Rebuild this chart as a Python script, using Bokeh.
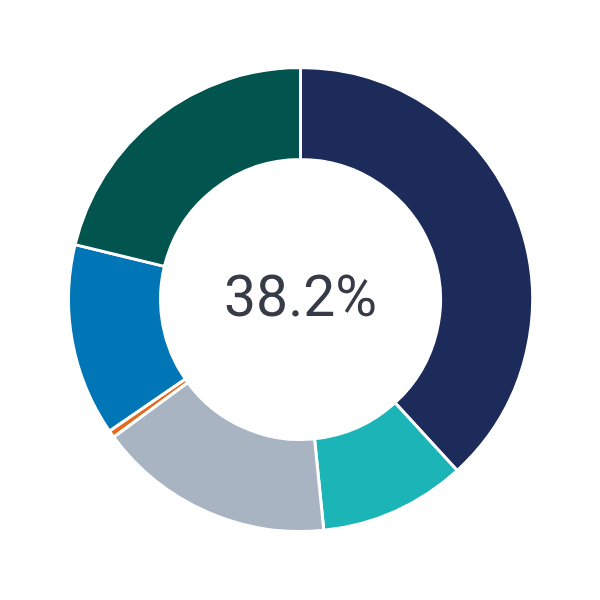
import numpy as np
from bokeh.plotting import figure
from bokeh.models import ColumnDataSource
from bokeh.core.properties import value
from bokeh.embed import file_html
from bokeh.resources import INLINE

# share of each segment, clockwise from the top
labels = ["Navy", "Teal", "Gray", "Orange", "Blue", "Green"]
shares = [38.2, 10.2, 16.5, 0.5, 13.4, 21.2]
colors = ["#1c2b5a", "#1bb5b8", "#a9b4c2", "#e3691f", "#0076b6", "#02554f"]
center_label = "38.2%"

fractions = np.array(shares) / sum(shares)
ends = np.cumsum(fractions) * 2 * np.pi
starts = ends - fractions * 2 * np.pi

src = ColumnDataSource(dict(
    label=labels,
    start=np.pi / 2 - starts,
    end=np.pi / 2 - ends,
    color=colors,
))

p = figure(width=600, height=600, x_range=(-300, 300), y_range=(-300, 300),
           output_backend="svg", toolbar_location=None, min_border=0)
p.axis.visible = False
p.grid.visible = False
p.outline_line_color = None

p.annular_wedge(x=0, y=1, inner_radius=140, outer_radius=232,
                start_angle="start", end_angle="end", direction="clock",
                fill_color="color", line_color="white", line_width=3,
                source=src)

p.text(x=[0], y=[4], text=[center_label], text_align="center",
       text_baseline="middle", text_font=value("Roboto"),
       text_font_size="57px", text_color="#363b47")

open("out.html", "w").write(file_html(p, INLINE))
